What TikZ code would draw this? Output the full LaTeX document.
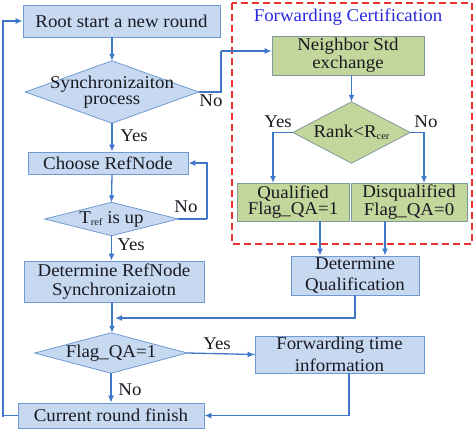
\documentclass[tikz,border=0pt]{standalone}
\usepackage{fontspec}
\setmainfont[FakeStretch=1.05]{Liberation Serif}
\usetikzlibrary{shapes.geometric,arrows.meta}
\definecolor{bfill}{HTML}{C6D9F1}
\definecolor{bdraw}{HTML}{6F9AD0}
\definecolor{gfill}{HTML}{C3D69B}
\definecolor{gdraw}{HTML}{7F9A9A}
\definecolor{lcol}{HTML}{3F78C8}
\definecolor{rcol}{HTML}{E8312F}
\definecolor{tcol}{HTML}{1A1A22}
\definecolor{ttl}{HTML}{2828E0}
\newcommand{\fsz}{\fontsize{18}{15.5}\selectfont}
\newcommand{\sbs}[1]{\raisebox{-0.3ex}{\fontsize{10}{10}\selectfont #1}}
% diamond: name, x, y, w, h, fill style, text
\newcommand{\dia}[7]{%
  \node[inner sep=0pt,minimum width=#4pt,minimum height=#5pt] (#1) at (#2,#3) {};
  \path[#6] (#1.north) -- (#1.east) -- (#1.south) -- (#1.west) -- cycle;
  \node[inner sep=0pt,align=center] (#1t) at (#1.center) {#7};}
\begin{document}
\begin{tikzpicture}[x=1pt,y=-1pt,
  every node/.style={text=tcol,font=\fsz},
  bbox/.style={draw=bdraw,fill=bfill,line width=0.8pt,inner sep=0pt,align=center,minimum width=#1},
  gbox/.style={draw=gdraw,fill=gfill,line width=0.8pt,inner sep=0pt,align=center,minimum width=#1},
  bd/.style={draw=bdraw,fill=bfill,line width=0.8pt},
  gd/.style={draw=gdraw,fill=gfill,line width=0.8pt},
  arr/.style={draw=lcol,line width=1.3pt,-{Latex[length=7pt,width=6pt]}},
  ln/.style={draw=lcol,line width=1.3pt},
  lab/.style={inner sep=0pt}]
\useasboundingbox (0,0) rectangle (474,432);
% red dashed frame
\draw[rcol,line width=1.2pt,dash pattern=on 7pt off 4pt] (232,3) rectangle (472,244);
\node[text=ttl] (title) at (348,17) {Forwarding Certification};
% left column
\node[bbox=197pt,minimum height=32pt] (root) at (121.5,21) {Root start a new round};
\dia{sync}{112}{92}{173}{62}{bd}{Synchronizaiton\\[1pt]process}
\node[bbox=160pt,minimum height=22pt] (choose) at (108,163) {Choose RefNode};
\dia{tref}{111.5}{219}{133}{33}{bd}{T\sbs{ref} is up}
\node[bbox=180pt,minimum height=41pt] (detref) at (114,281.5) {Determine RefNode\\[3.5pt]Synchronizaiotn};
\dia{flag}{111}{353}{152}{40}{bd}{Flag\_QA=1}
\node[bbox=186pt,minimum height=25pt] (finish) at (111,415.5) {Current round finish};
% right part
\node[gbox=152pt,minimum height=39pt] (neigh) at (348,55.5) {Neighbor Std\\[1pt]exchange};
\dia{rank}{351.5}{132.5}{117}{61}{gd}{Rank<R\sbs{cer}}
\node[gbox=112pt,minimum height=38pt] (qual) at (293,202) {Qualified\\[1pt]Flag\_QA=1};
\node[gbox=116pt,minimum height=38pt] (disq) at (409,202) {Disqualified\\[1pt]Flag\_QA=0};
\node[bbox=128pt,minimum height=39pt] (detq) at (355,275.5) {Determine\\[5pt]Qualification};
\node[bbox=169pt,minimum height=37pt] (fwd) at (339.5,354.5) {Forwarding time\\[4pt]information};
% coordinates
\coordinate (c1) at (221,51);
\coordinate (c2) at (207,219);
\coordinate (m) at (112,318);
\coordinate (qa) at (273,183);
\coordinate (qd) at (424,183);
\coordinate (qb) at (320,221);
\coordinate (db) at (385,221);
\coordinate (fb) at (349,373);
\coordinate (fl) at (3,416);
% connectors
\draw[arr] (root.south -| m) -- (sync.north);
\draw[ln] (sync.east) -| (c1);
\draw[arr] (c1) -- (neigh.west |- c1);
\draw[arr] (sync.south) -- (choose.north -| sync.south);
\draw[arr] (choose.south -| m) -- (tref.north);
\draw[ln] (tref.east) -- (c2);
\draw[arr] (c2) |- (choose.east);
\draw[arr] (tref.south) -- (detref.north -| tref.south);
\draw[arr] (detref.south -| m) -- (flag.north -| m);
\draw[ln] (detq.south -| 355,0) |- ([xshift=8pt]m);
\draw[arr] ([xshift=26pt]m) -- ([xshift=3pt]m);
\draw[ln] (flag.east) -- (fwd.west);
\draw[arr] ([xshift=-12pt]fwd.west) -- (fwd.west);
\draw[arr] (flag.south) -- (finish.north -| flag.south);
\draw[ln] (fwd.south -| fb) |- ([xshift=20pt]finish.east);
\draw[arr] ([xshift=20pt]finish.east) -- (finish.east);
\draw[ln] (finish.west) -| (fl);
\draw[arr] (fl) |- (root.west);
\draw[arr] (neigh.south -| rank.north) -- (rank.north);
\draw[arr] (rank.west) -| (qa);
\draw[arr] (rank.east) -| (qd);
\draw[arr] (qb) -- (detq.north -| qb);
\draw[arr] (db) -- (detq.north -| db);
% labels
\node[lab] (l1) at (211,101) {No};
\node[lab] (l2) at (134,136) {Yes};
\node[lab] (l3) at (186,207) {No};
\node[lab] (l4) at (131,245) {Yes};
\node[lab] (l5) at (217,344) {Yes};
\node[lab] (l6) at (130,390) {No};
\node[lab] (l7) at (278,122) {Yes};
\node[lab] (l8) at (426,122) {No};
\end{tikzpicture}
\end{document}
